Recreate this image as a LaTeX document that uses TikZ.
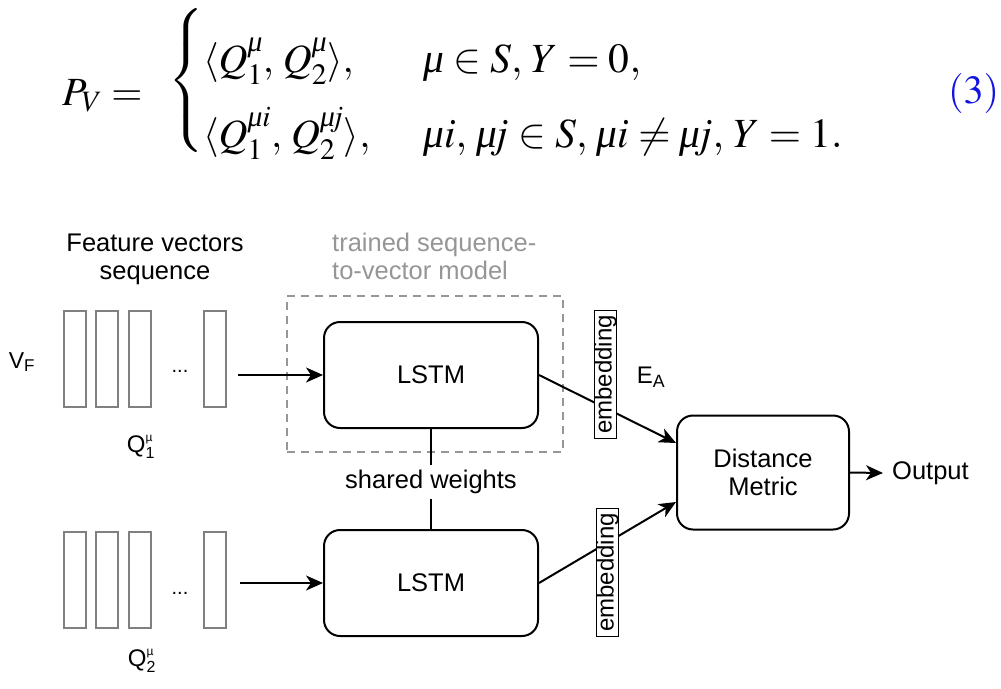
\documentclass[tikz,border=0pt]{standalone}
\usepackage[no-math]{fontspec}
\usepackage{amsmath}
\usepackage{mathptmx}
\setmainfont{Liberation Sans}
\newfontfamily\tmsfont{Liberation Serif}
\newcommand{\imu}{\text{\tmsfont\itshape μ}}
\newcommand{\imj}{\imu\mkern-3mu j}
\usetikzlibrary{arrows.meta,calc}
\definecolor{eqblue}{RGB}{20,20,225}
\definecolor{featgray}{RGB}{128,128,128}
\definecolor{dashgray}{RGB}{150,150,150}
\begin{document}
\begin{tikzpicture}[x=1pt,y=-1pt,
  lbl/.style={font=\fontsize{25.5}{28}\selectfont, inner sep=0pt, align=center},
  eqtxt/.style={font=\fontsize{40}{48}\selectfont, inner sep=0pt, anchor=base west},
  condtxt/.style={eqtxt, font=\fontsize{41.5}{48}\selectfont},
  featbox/.style={draw=featgray, line width=2pt, minimum width=22pt, minimum height=96pt, inner sep=0pt},
  roundbox/.style={draw, line width=2pt, rounded corners=16pt, inner sep=0pt, align=center, font=\fontsize{25.5}{28}\selectfont},
  conn/.style={line width=2pt},
  arr/.style={conn, -{Stealth[length=17pt,width=15pt,inset=5pt]}},
  embbox/.style={draw, fill=white, line width=1.5pt, rotate=90, minimum width=128pt, minimum height=22pt, inner sep=0pt, font=\fontsize{24}{24}\selectfont},
  dotstxt/.style={font=\fontsize{20}{20}\selectfont, inner sep=0pt, anchor=base},
]
\useasboundingbox (0,0) rectangle (1001,688);
\fill[white] (0,0) rectangle (1001,688);

% ---------- equation ----------
\node[eqtxt] (pv) at (62,105) {$P_V =$};
\node[font=\fontsize{40}{48}\selectfont, inner sep=0pt] (brace) at (187,80) {$\left\{\rule[-62pt]{0pt}{124pt}\right.$};
\node[eqtxt] (r1a) at (203,72) {$\langle Q_1^{\imu},\, Q_2^{\imu}\rangle,$};
\node[condtxt] (r1b) at (423,72) {$\imu \in S,\, Y = 0,$};
\node[eqtxt] (r2a) at (203,147) {$\langle Q_1^{\imu i},\, Q_2^{\imj}\rangle,$};
\node[condtxt] (r2b) at (423,147) {$\imu i,\, \imj \in S,\, \imu i \neq \imj,\, Y = 1.$};
\node[eqtxt, text=eqblue] (eqnum) at (948,103) {$(3)$};

% ---------- labels ----------
\node[lbl] (fvtitle) at (155,259) {Feature vectors\\sequence};
\node[lbl, text=dashgray, align=left, anchor=west] (tsv) at (332,256) {trained sequence-\\to-vector model};
\node[lbl, font=\fontsize{23}{23}\selectfont] (vf) at (22,362) {V\textsubscript{F}};

% ---------- feature vectors ----------
\node[featbox] (f1) at (74.5,358.5) {};
\node[featbox] (f2) at (107,358.5) {};
\node[featbox] (f3) at (139.5,358.5) {};
\node[featbox] (f4) at (215,358.5) {};
\node[dotstxt] (dots1) at (180,372) {...};
\node[lbl, font=\fontsize{24}{24}\selectfont] (q1) at (141,447) {Q$_{\mbox{\fontsize{16}{16}\selectfont 1}}^{\mbox{\fontsize{12}{12}\selectfont µ}}$};

\node[featbox] (g1) at (75,580) {};
\node[featbox] (g2) at (107,580) {};
\node[featbox] (g3) at (140,580) {};
\node[featbox] (g4) at (214.5,580) {};
\node[dotstxt] (dots2) at (180,594) {...};
\node[lbl, font=\fontsize{24}{24}\selectfont] (q2) at (142,661) {Q$_{\mbox{\fontsize{16}{16}\selectfont 2}}^{\mbox{\fontsize{12}{12}\selectfont µ}}$};

% ---------- model ----------
\node[draw=dashgray, line width=1.5pt, dash pattern=on 8pt off 6pt, minimum width=276pt, minimum height=156pt, inner sep=0pt] (model) at (425,374) {};
\node[roundbox, minimum width=214pt, minimum height=106pt] (lstm1) at (431,375) {LSTM};
\node[roundbox, minimum width=214pt, minimum height=106pt] (lstm2) at (431,583) {LSTM};
\node[roundbox, minimum width=172pt, minimum height=114pt] (dist) at (763,472.5) {Distance\\Metric};
\node[lbl, anchor=west, inner xsep=9pt] (out) at (883,473) {Output};
\node[lbl, inner ysep=5pt] (sw) at (431,482) {shared weights};

% ---------- connectors ----------
\coordinate (in1) at (238,375);
\coordinate (in2) at (240,583);
\draw[arr] (in1) -- (lstm1.west);
\draw[arr] (in2) -- (lstm2.west);
\coordinate (d1) at ([yshift=29.5pt]dist.west);
\coordinate (d2) at ([yshift=-29.5pt]dist.west);
\draw[arr] (lstm1.east) -- (d1);
\draw[arr] (lstm2.east) -- (d2);
\draw[arr] (dist.east) -- (out.west);
\draw[conn] (lstm1.south) -- (sw.north);
\draw[conn] (sw.south) -- (lstm2.north);

\node[embbox] (emb1) at (605.5,374.5) {embedding};
\node[embbox] (emb2) at (607.5,572.5) {embedding};
\node[lbl, font=\fontsize{24}{24}\selectfont] (ea) at (651,377) {E\textsubscript{A}};
\end{tikzpicture}
\end{document}
